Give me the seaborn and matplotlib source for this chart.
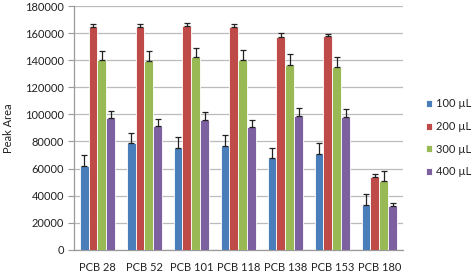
import numpy as np
import pandas as pd
import matplotlib
matplotlib.use("Agg")
import matplotlib.pyplot as plt
import seaborn as sns

categories = ["PCB 28", "PCB 52", "PCB 101", "PCB 118", "PCB 138", "PCB 153", "PCB 180"]
volumes = ["100 µL", "200 µL", "300 µL", "400 µL"]
v100 = [62000, 78500, 75000, 76800, 67700, 70800, 33200]
v200 = [164800, 164800, 165500, 164800, 157400, 157500, 53400]
v300 = [140000, 139200, 142200, 140200, 136500, 135300, 50900]
v400 = [97600, 91700, 95900, 90800, 98900, 97900, 32500]
e100 = [7800, 8000, 8000, 8000, 7300, 7900, 7900]
e200 = [1800, 1800, 2200, 1800, 2300, 1800, 2500]
e300 = [7100, 7300, 6800, 7400, 8100, 7400, 7400]
e400 = [5200, 5200, 5900, 5100, 5900, 5900, 2400]
yticks = [0, 20000, 40000, 60000, 80000, 100000, 120000, 140000, 160000, 180000]
colors = ["#4A7EBB", "#BE4B48", "#98B954", "#7D60A0"]

sns.set_theme(style="white")
plt.rcParams['font.family'] = ['Lato', 'DejaVu Sans']

rows = []
for vol, vals, errs in zip(volumes, [v100, v200, v300, v400], [e100, e200, e300, e400]):
    for c, v, e in zip(categories, vals, errs):
        rows.append({"PCB": c, "Volume": vol, "Peak Area": v, "err": e})
df = pd.DataFrame(rows)

fig = plt.figure(figsize=(4.74, 2.73), dpi=100)
ax = fig.add_axes([0.156, 0.085, 0.694, 0.893])
sns.barplot(data=df, x="PCB", y="Peak Area", hue="Volume", order=categories,
            hue_order=volumes, palette=colors, saturation=1, errorbar=None, width=0.76,
            edgecolor="white", linewidth=0.6, ax=ax, zorder=3)

# error bars (upper only) from bar positions
for vol, container in zip(volumes, ax.containers):
    sub = df[df["Volume"] == vol].set_index("PCB").loc[categories]
    xs = [p.get_x() + p.get_width() / 2 for p in container.patches]
    ax.errorbar(xs, sub["Peak Area"].values,
                yerr=[np.zeros(len(xs)), sub["err"].values],
                fmt="none", ecolor="#222222", elinewidth=0.9, capsize=2.5,
                capthick=0.9, zorder=4)

fs = 8.0
ax.set_ylim(0, 180000)
ax.set_xlim(-0.5, len(categories) - 0.5)
ax.set_yticks(yticks)
ax.set_yticklabels([str(t) for t in yticks], fontsize=fs, color="#222222")
ax.yaxis.grid(True, color="#BBBBBB", linewidth=0.9, zorder=0)
ax.set_axisbelow(True)
ax.set_xlabel("")
ax.set_ylabel("Peak Area", fontsize=fs, color="#222222", labelpad=8)
ax.tick_params(axis="x", which="major", length=0, pad=9, labelsize=fs, labelcolor="#222222")
ax.set_xticks(np.arange(-0.5, len(categories), 1.0), minor=True)
ax.tick_params(axis="x", which="minor", length=4, color="#999999", width=0.8, direction="out")
ax.tick_params(axis="y", length=4, color="#999999", width=0.8, direction="out", pad=3, left=True)
for s in ["top", "right"]:
    ax.spines[s].set_visible(False)
for s in ["left", "bottom"]:
    ax.spines[s].set_color("#999999")
    ax.spines[s].set_linewidth(0.9)

leg = ax.legend(loc="center left", bbox_to_anchor=(0.898, 0.495),
                bbox_transform=fig.transFigure, frameon=False,
                fontsize=fs, handlelength=0.6, handleheight=0.6, labelspacing=1.05,
                handletextpad=0.35, borderaxespad=0, borderpad=0)
for t in leg.get_texts():
    t.set_color("#222222")

fig.savefig("out.png", dpi=100)
